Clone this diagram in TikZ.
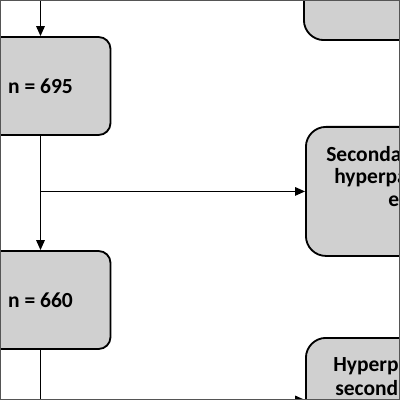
\documentclass[tikz,border=0pt]{standalone}
\usepackage{fontspec}
\setmainfont{Carlito}
\usetikzlibrary{arrows.meta,positioning,calc}
\definecolor{boxgray}{HTML}{D0D0D0}
\definecolor{framegray}{HTML}{555555}
\tikzset{
  label/.style={font=\bfseries\fontsize{15.3}{18}\selectfont,text=black},
  line/.style={font=\bfseries\fontsize{15.3}{18}\selectfont,text=black,inner sep=0pt,anchor=base west},
  countbox/.style={rounded corners=0.3cm,draw=black,fill=boxgray,line width=1.3pt,minimum width=3.5cm,minimum height=2.45cm,label},
  sidebox/.style={rounded corners=0.5cm,draw=black,fill=boxgray,line width=1.3pt,minimum width=6.5cm,minimum height=3.225cm},
  arr/.style={-{Triangle[length=7pt,width=6pt]},draw=black,line width=1pt}
}
\begin{document}
\begin{tikzpicture}[x=0.025cm,y=-0.025cm]
\useasboundingbox (0,0) rectangle (400,400);
\clip (0,0) rectangle (400,400);
% left column
\coordinate (in) at (40.5,-30);
\node[countbox] (n695) at (40.5,86) {n = 695};
\node[countbox] (n660) at (40.5,300) {n = 660};
\coordinate (out) at (40.5,440);
% right column
\node[sidebox,anchor=south west] (top) at (303,41) {};
\node[sidebox,anchor=north west] (sec) at (305,126) {};
\node[sidebox,anchor=north west,minimum height=3.1cm] (hyp) at (305,337) {};
\node[line] (sec1) at (326,161) {Secondary};
\node[line] (sec2) at (334,183.5) {hyperparathyroidism};
\node[line] (sec3) at (388,206) {excluded};
\node[line] (hyp1) at (333,371) {Hyperparathyroidism};
\node[line] (hyp2) at (335,395) {secondary};
% connectors
\draw[arr] (in) -- (n695.north);
\draw[arr] (n695.south) -- (n660.north);
\draw[arr] (n695.south |- sec.west) -- (sec.west);
\draw[line width=1pt] (n660.south) -- (out);
\draw[arr] (n660.south |- hyp.west) -- (hyp.west);
% frame
\draw[framegray,line width=0.8pt] (0.6,0.6) rectangle (399.4,399.4);
\end{tikzpicture}
\end{document}
